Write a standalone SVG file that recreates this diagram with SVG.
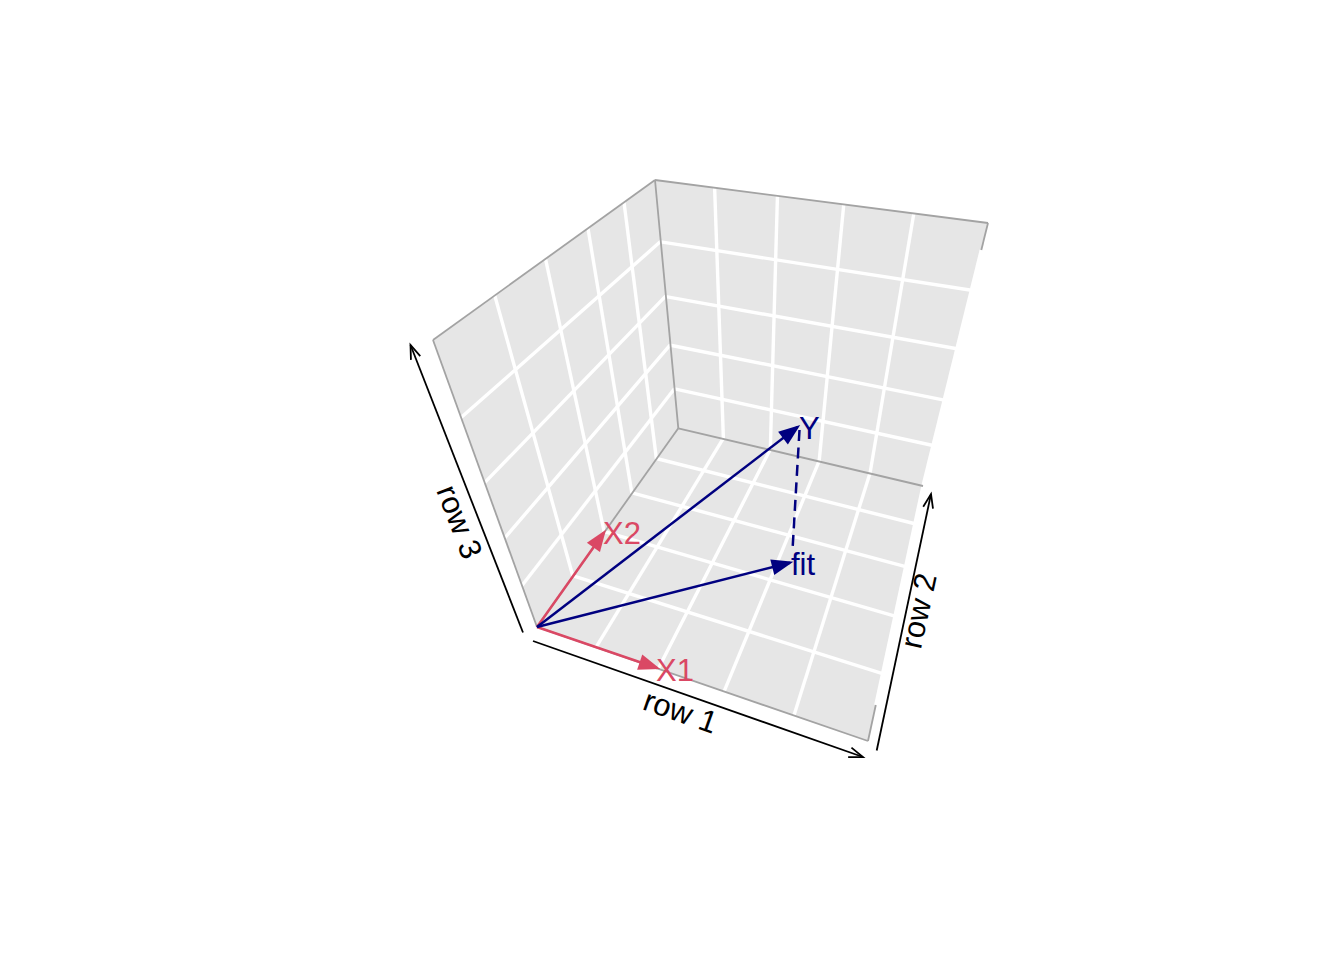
<svg xmlns="http://www.w3.org/2000/svg" width="1344" height="960" viewBox="0 0 1344 960">
<style>
.panel{fill:#E6E6E6;stroke:none}
.grid line{stroke:#FFFFFF;stroke-width:3.4}
.edge line{stroke:#A3A3A3;stroke-width:1.8}
.axis{stroke:#000000;stroke-width:1.8;fill:none}
.lbl{font-family:"Liberation Sans",Arial,sans-serif;font-size:31px}
.red{stroke:#DA4864;stroke-width:2.5;fill:none}
.blue{stroke:#000080;stroke-width:2.5;fill:none}
</style>
<defs>
<marker id="open" markerUnits="userSpaceOnUse" markerWidth="30" markerHeight="30" viewBox="-20 -10 30 20" refX="0" refY="0" orient="auto">
<path d="M-14,-5 L0,0 L-14,5" fill="none" stroke="#000" stroke-width="1.8"/>
</marker>
<marker id="headRed" markerUnits="userSpaceOnUse" markerWidth="40" markerHeight="30" viewBox="-25 -10 35 20" refX="0" refY="0" orient="auto">
<path d="M3,0 L-16,-7 L-16,7 Z" fill="#DA4864"/>
</marker>
<marker id="headBlue" markerUnits="userSpaceOnUse" markerWidth="40" markerHeight="30" viewBox="-25 -10 35 20" refX="0" refY="0" orient="auto">
<path d="M3,0 L-16,-7 L-16,7 Z" fill="#000080"/>
</marker>
</defs>
<rect width="1344" height="960" fill="#FFFFFF"/>

<g id="box">
<polygon class="panel" points="537,627 678.3,428.3 655,180 433,340"/>
<polygon class="panel" points="678.3,428.3 923,486 988,223 655,180"/>
<polygon class="panel" points="537,627 868,741 923,486 678.3,428.3"/>
<g class="grid">
<line x1="595.96" y1="647.31" x2="723.15" y2="438.69"/>
<line x1="658.24" y1="668.76" x2="770.11" y2="449.80"/>
<line x1="724.12" y1="691.44" x2="818.99" y2="461.38"/>
<line x1="793.92" y1="715.48" x2="869.91" y2="473.43"/>
<line x1="573.18" y1="575.93" x2="882.55" y2="673.52"/>
<line x1="604.58" y1="531.61" x2="894.93" y2="616.13"/>
<line x1="632.09" y1="492.79" x2="905.59" y2="566.72"/>
<line x1="656.38" y1="458.5" x2="914.86" y2="523.73"/>
<line x1="723.40" y1="438.93" x2="714.62" y2="187.70"/>
<line x1="770.31" y1="450.0" x2="777.45" y2="195.81"/>
<line x1="819.13" y1="461.51" x2="843.76" y2="204.37"/>
<line x1="869.98" y1="473.50" x2="913.82" y2="213.42"/>
<line x1="674.61" y1="388.94" x2="933.00" y2="445.53"/>
<line x1="670.51" y1="345.27" x2="944.23" y2="400.11"/>
<line x1="665.94" y1="296.55" x2="956.92" y2="348.77"/>
<line x1="660.80" y1="241.85" x2="971.37" y2="290.27"/>
<line x1="572.96" y1="576.43" x2="494.75" y2="295.49"/>
<line x1="604.33" y1="532.32" x2="545.51" y2="258.91"/>
<line x1="631.94" y1="493.49" x2="587.97" y2="228.31"/>
<line x1="656.43" y1="459.05" x2="624.02" y2="202.33"/>
<line x1="521.99" y1="585.57" x2="674.57" y2="388.58"/>
<line x1="504.73" y1="537.95" x2="670.45" y2="344.67"/>
<line x1="484.68" y1="482.63" x2="665.87" y2="295.88"/>
<line x1="461.11" y1="417.58" x2="660.76" y2="241.35"/>
<line x1="981.3" y1="250" x2="923" y2="486"/>
<line x1="923" y1="486" x2="875.8" y2="705"/>
</g>
<g class="edge">
<line x1="433" y1="340" x2="537" y2="627"/>
<line x1="433" y1="340" x2="655" y2="180"/>
<line x1="655" y1="180" x2="678.3" y2="428.3"/>
<line x1="537" y1="627" x2="678.3" y2="428.3"/>
<line x1="655" y1="180" x2="988" y2="223"/>
<line x1="988" y1="223" x2="981.3" y2="250"/>
<line x1="537" y1="627" x2="868" y2="741"/>
<line x1="868" y1="741" x2="875.8" y2="705"/>
<line x1="678.3" y1="428.3" x2="923" y2="486"/>
</g>
</g>

<g id="axes">
<line class="axis" x1="533" y1="641" x2="863" y2="757" marker-end="url(#open)"/>
<line class="axis" x1="876.7" y1="750.5" x2="931" y2="494" marker-end="url(#open)"/>
<line class="axis" x1="523" y1="632.5" x2="410.5" y2="345" marker-end="url(#open)"/>
</g>
<g id="axis-labels" class="lbl" fill="#000000" text-anchor="middle">
<text transform="translate(677,721.5) rotate(19.4)">row 1</text>
<text transform="translate(928.8,612.9) rotate(-77.9)">row 2</text>
<text transform="translate(449.6,525.7) rotate(68.9)">row 3</text>
</g>

<g id="connectors">
<line class="blue" x1="799.5" y1="430" x2="792.5" y2="550" stroke-dasharray="11 6.5"/>
<line id="vec-X1" class="red" x1="537" y1="627" x2="657" y2="668" marker-end="url(#headRed)"/>
<line id="vec-X2" class="red" x1="537" y1="627" x2="604" y2="532.5" marker-end="url(#headRed)"/>
<line id="vec-Y" class="blue" x1="537" y1="627" x2="797.5" y2="427" marker-end="url(#headBlue)"/>
<line id="vec-fit" class="blue" x1="537" y1="627" x2="790" y2="562.7" marker-end="url(#headBlue)"/>
</g>

<g id="node-X1"><text class="lbl" x="656" y="681" fill="#DA4864">X1</text></g>
<g id="node-X2"><text class="lbl" x="603" y="544" fill="#DA4864">X2</text></g>
<g id="node-Y"><text class="lbl" x="799" y="439" fill="#000080">Y</text></g>
<g id="node-fit"><text class="lbl" x="791" y="575" fill="#000080">fit</text></g>
</svg>
